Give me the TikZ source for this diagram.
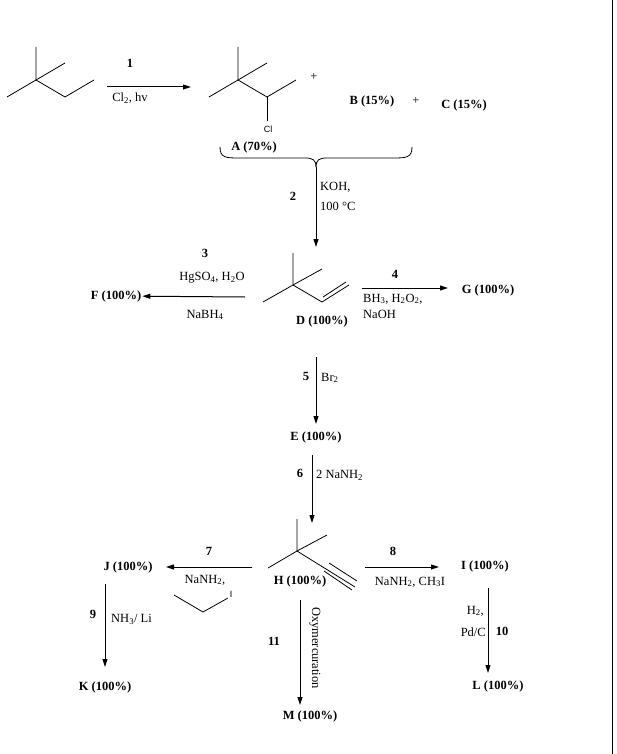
\documentclass[tikz,border=0pt]{standalone}
\usepackage{fontspec}
\setmainfont{Liberation Serif}
\setsansfont{Liberation Sans}
\usetikzlibrary{arrows.meta}
\begin{document}
\begin{tikzpicture}[x=1pt,y=-1pt,
  bond/.style={line width=0.8pt},
  rxn/.style={line width=1pt,-{Triangle[length=8pt,width=5pt]}},
  lbl/.style={font=\fontsize{12.5}{14}\selectfont\bfseries,inner sep=1pt},
  cond/.style={font=\fontsize{12.5}{14}\selectfont,inner sep=1pt}]
\useasboundingbox (0,0) rectangle (616,754);
\draw[line width=0.8pt] (612,0) -- (612,754);
% starting material
\draw[bond] (36,47) -- (36,80) -- (7,97); \draw[bond] (36,80) -- (65,63);
\draw[bond] (36,80) -- (65,97) -- (94,80);
\coordinate (r1s) at (107,87); \coordinate (r1e) at (191,87);
\draw[rxn] (r1s) -- (r1e);
\node[lbl] (n1) at (130,63) {1};
\node[cond] (c1) at (130,98) {Cl\textsubscript{2}, hv};
% A
\draw[bond] (238,47) -- (238,80) -- (209,97); \draw[bond] (238,80) -- (267,63);
\draw[bond] (238,80) -- (267,97) -- (296,80); \draw[bond] (267,97) -- (267,121);
\node[font=\sffamily\fontsize{9}{10}\selectfont,inner sep=0.5pt] (cl) at (268,129) {Cl};
\node[cond] (p1) at (314,77) {+};
\node[lbl] (A) at (254,147) {A (70\%)};
\node[lbl] (B) at (372,101) {B (15\%)};
\node[cond] (p2) at (416,101) {+};
\node[lbl] (C) at (464,105) {C (15\%)};
% brace
\coordinate (bt) at (316,167);
\draw[line width=0.8pt] (220,147) .. controls (220,158) and (226,158) .. (240,158) -- (305,158) .. controls (313,158) and (316,160) .. (bt);
\draw[line width=0.8pt] (412,147) .. controls (412,158) and (406,158) .. (392,158) -- (327,158) .. controls (319,158) and (316,160) .. (bt);
\coordinate (r2e) at (316,247);
\draw[rxn] (bt) -- (r2e);
\node[lbl] (n2) at (293,196) {2};
\node[cond,anchor=west] (c2a) at (319,187) {KOH,};
\node[cond,anchor=west] (c2b) at (319,206) {100 °C};
% D
\draw[bond] (293,253) -- (293,285) -- (263,302); \draw[bond] (293,285) -- (322,269);
\draw[bond] (293,285) -- (322,302) -- (349,285);
\draw[bond] (323,297) -- (346,282);
\node[lbl] (D) at (322,321) {D (100\%)};
\coordinate (r3s) at (245,297); \node[lbl] (F) at (116,296) {F (100\%)};
\draw[rxn] (r3s) -- (F);
\node[lbl] (n3) at (205,253) {3};
\node[cond] (c3a) at (212,278) {HgSO\textsubscript{4}, H\textsubscript{2}O};
\node[cond] (c3b) at (205,315) {NaBH\textsubscript{4}};
\coordinate (r4s) at (362,288); \coordinate (r4e) at (448,288);
\draw[rxn] (r4s) -- (r4e);
\node[lbl] (n4) at (395,274) {4};
\node[cond,anchor=west] (c4a) at (362,299) {BH\textsubscript{3}, H\textsubscript{2}O\textsubscript{2},};
\node[cond,anchor=west] (c4b) at (362,314) {NaOH};
\node[lbl] (G) at (488,290) {G (100\%)};
% E
\coordinate (r5s) at (316,357);
\node[lbl] (E) at (316,437) {E (100\%)};
\draw[rxn] (r5s) -- (316,424);
\node[lbl] (n5) at (306,376) {5};
\node[cond,anchor=west] (c5) at (320,378) {Br\textsubscript{2}};
\coordinate (r6s) at (312,455); \coordinate (r6e) at (312,523);
\draw[rxn] (r6s) -- (r6e);
\node[lbl] (n6) at (300,473) {6};
\node[cond,anchor=west] (c6) at (315,475) {2 NaNH\textsubscript{2}};
% H
\draw[bond] (297,519) -- (297,551) -- (268,568); \draw[bond] (297,551) -- (327,535);
\draw[bond] (297,551) -- (355,587);
\draw[bond] (329,563) -- (357,581); \draw[bond] (324,571) -- (352,590);
\node[lbl] (H) at (300,581) {H (100\%)};
\coordinate (r7s) at (252,567); \node[lbl] (J) at (128,567) {J (100\%)};
\draw[rxn] (r7s) -- (166,567);
\node[lbl] (n7) at (209,551) {7};
\node[cond] (c7) at (205,580) {NaNH\textsubscript{2},};
\draw[bond] (174,595) -- (203,612) -- (228,598);
\node[font=\sffamily\fontsize{9}{10}\selectfont,inner sep=0.5pt] (iod) at (231,594) {I};
\node[lbl] (K) at (105,687) {K (100\%)};
\draw[rxn] (105,584) -- (105,667);
\node[lbl] (n9) at (93,614) {9};
\node[cond,anchor=west] (c9) at (110,619) {NH\textsubscript{3}/ Li};
\coordinate (r8s) at (365,567); \node[lbl] (I) at (485,566) {I (100\%)};
\draw[rxn] (r8s) -- (439,567);
\node[lbl] (n8) at (393,551) {8};
\node[cond] (c8) at (410,582) {NaNH\textsubscript{2}, CH\textsubscript{3}I};
\node[lbl] (L) at (498,686) {L (100\%)};
\draw[rxn] (488,588) -- (488,673);
\node[cond,anchor=east] (c10a) at (485,611) {H\textsubscript{2},};
\node[cond,anchor=east] (c10b) at (487,632) {Pd/C};
\node[lbl] (n10) at (502,631) {10};
\node[lbl] (M) at (310,716) {M (100\%)};
\draw[rxn] (300,600) -- (300,705);
\node[lbl] (n11) at (274,641) {11};
\node[cond,rotate=-90] (c11) at (315,648) {Oxymercuration};
\end{tikzpicture}
\end{document}
